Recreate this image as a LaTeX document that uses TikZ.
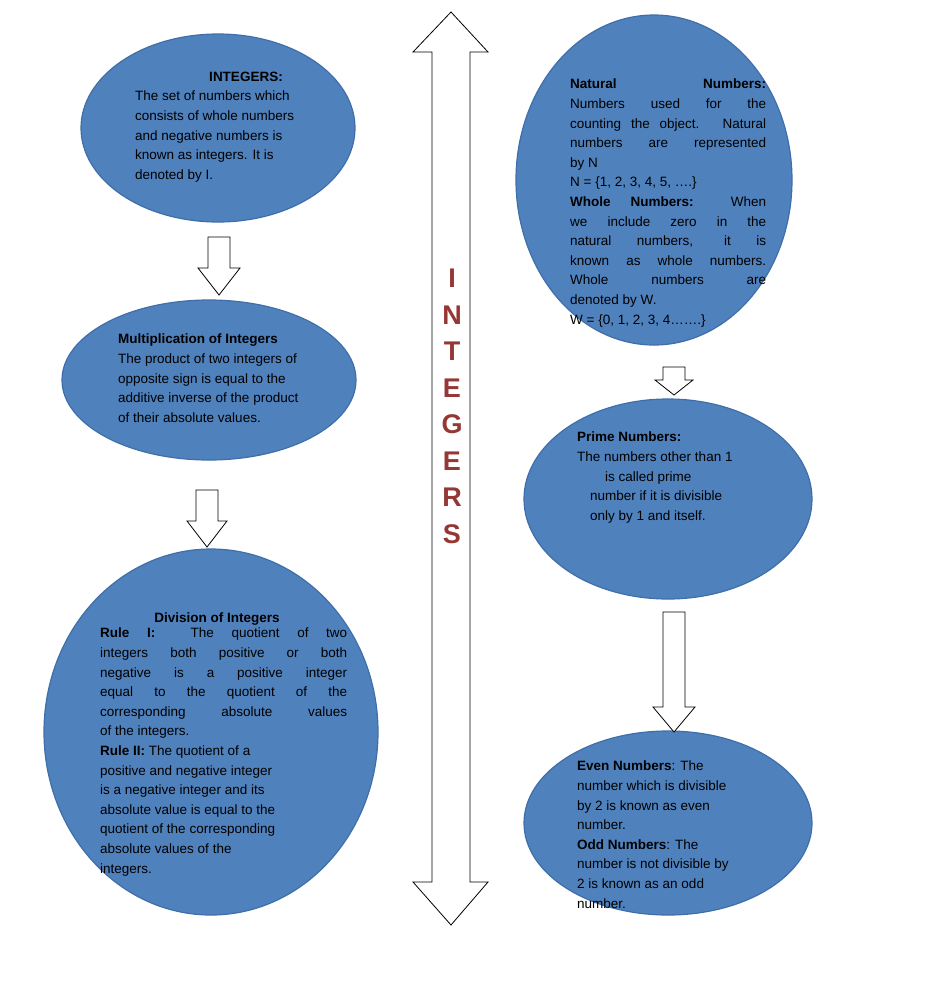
\documentclass[tikz,border=0pt]{standalone}
\usepackage{fontspec}
\setmainfont{Liberation Sans}
\newcommand{\jn}[1]{\makebox[196pt][s]{#1}}
\newcommand{\jd}[1]{\makebox[247pt][s]{#1}}
\begin{document}
\begin{tikzpicture}[x=1pt,y=-1pt,
  blob/.style={fill=blobfill, draw=blobedge, line width=1.2pt},
  txt/.style={anchor=north west, inner sep=0pt, align=left, font=\fontsize{13.5}{19.6}\selectfont},
  hollow/.style={draw=black, fill=white, line width=0.8pt, line join=miter},
  big/.style={font=\fontsize{27}{33}\bfseries\selectfont, text=letterred, inner sep=0pt}]
\definecolor{blobfill}{HTML}{4F81BD}
\definecolor{blobedge}{HTML}{3F6FAA}
\definecolor{letterred}{HTML}{953735}
\useasboundingbox (0,0) rectangle (933,989);
\fill[white] (0,0) rectangle (933,989);
% ellipses
\draw[blob] (218,128) ellipse [x radius=137, y radius=94];
\draw[blob] (209,380) ellipse [x radius=147, y radius=80];
\draw[blob] (211,732) ellipse [x radius=167, y radius=183];
\draw[blob] (654,180) ellipse [x radius=138, y radius=165];
\draw[blob] (668,499) ellipse [x radius=144, y radius=100];
\draw[blob] (668,823) ellipse [x radius=144, y radius=92];
% block arrows
\draw[hollow] (208,237)--(230,237)--(230,268)--(240,268)--(219,295)--(198,268)--(208,268)--cycle;
\draw[hollow] (196,490)--(218,490)--(218,521)--(227,521)--(207,547)--(187,521)--(196,521)--cycle;
\draw[hollow] (663,367)--(685,367)--(685,380)--(693,380)--(674,395)--(655,380)--(663,380)--cycle;
\draw[hollow] (663,612)--(685,612)--(685,707)--(695,707)--(674,732)--(653,707)--(663,707)--cycle;
% double arrow
\draw[hollow] (451,12)--(488,52)--(470,52)--(470,882)--(488,882)--(451,925)--(413,882)--(432,882)--(432,52)--(413,52)--cycle;
% vertical letters
\foreach \l [count=\i] in {I,N,T,E,G,E,R,S}
  \node[big] (L\i) at (452,242+\i*36.5) {\l};
% texts
\node[txt, anchor=base] (t1) at (246,81) {\bfseries INTEGERS:};
\node[txt] (t1b) at (135,91) {The set of numbers which\\consists of whole numbers\\and negative numbers is\\known as integers. It is\\denoted by I.};
\node[txt] (t2) at (118,334) {\bfseries Multiplication of Integers\\The product of two integers of\\opposite sign is equal to the\\additive inverse of the product\\of their absolute values.};
\node[txt, anchor=base] (t3) at (217,622) {\bfseries Division of Integers};
\node[txt] (t3b) at (100,628) {\jd{\textbf{Rule I:}\ \ The quotient of two}\\\jd{integers both positive or both}\\\jd{negative is a positive integer}\\\jd{equal to the quotient of the}\\\jd{corresponding absolute values}\\of the integers.\\\textbf{Rule II:} The quotient of a\\positive and negative integer\\is a negative integer and its\\absolute value is equal to the\\quotient of the corresponding\\absolute values of the\\integers.};
\node[txt] (t4) at (570,79) {\jn{\textbf{Natural Numbers:}}\\\jn{Numbers used for the}\\\jn{counting the object. Natural}\\\jn{numbers are represented}\\by N\\N = \{1, 2, 3, 4, 5, ….\}\\\jn{\textbf{Whole Numbers:} When}\\\jn{we include zero in the}\\\jn{natural numbers, it is}\\\jn{known as whole numbers.}\\\jn{Whole numbers are}\\denoted by W.\\W = \{0, 1, 2, 3, 4…….\}};
\node[txt] (t5) at (577,432) {\bfseries Prime Numbers:};
\node[txt] (t5b) at (577,452) {The numbers other than 1};
\node[txt] (t5c) at (605,472) {is called prime};
\node[txt] (t5d) at (590,491) {number if it is divisible\\only by 1 and itself.};
\node[txt] (t6) at (577,761) {\textbf{Even Numbers}: The\\number which is divisible\\by 2 is known as even\\number.\\\textbf{Odd Numbers}: The\\number is not divisible by\\2 is known as an odd\\number.};
\end{tikzpicture}
\end{document}
